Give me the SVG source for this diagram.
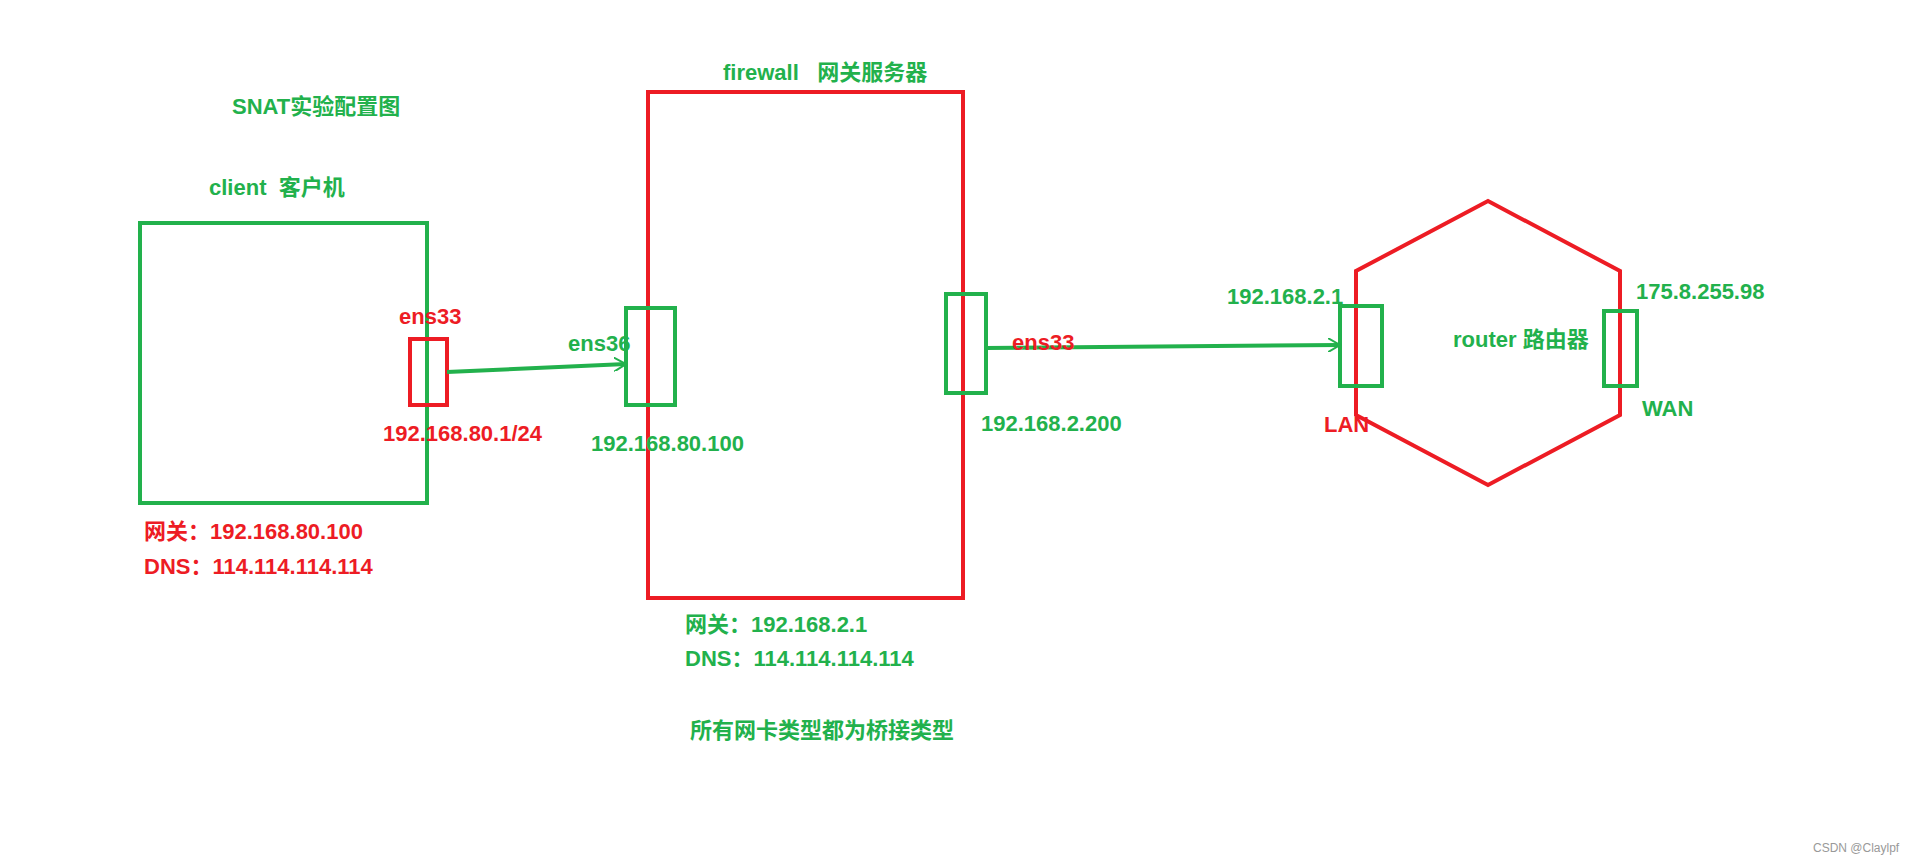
<svg xmlns="http://www.w3.org/2000/svg" width="1914" height="866" viewBox="0 0 1914 866">
<style>
.t{font-family:"Liberation Sans","Noto Sans CJK SC",sans-serif;font-weight:bold;font-size:22px}
.g{fill:#22b14c}.r{fill:#ed1c24}
.sg{fill:none;stroke:#22b14c;stroke-width:4}
.sr{fill:none;stroke:#ed1c24;stroke-width:4}
</style>
<defs><marker id="a" markerWidth="14" markerHeight="14" refX="12" refY="7" orient="auto" markerUnits="userSpaceOnUse"><path d="M0,0 L12,7 L0,14" fill="none" stroke="#22b14c" stroke-width="2"/></marker></defs>
<rect width="1914" height="866" fill="#fff"/>
<g id="client"><rect class="sg" x="140" y="223" width="287" height="280"/></g>
<g id="client-ens33"><rect class="sr" x="410" y="339" width="37" height="66"/></g>
<g id="firewall"><rect class="sr" x="648" y="92" width="315" height="506"/></g>
<g id="fw-ens36"><rect class="sg" x="626" y="308" width="49" height="97"/></g>
<g id="fw-ens33"><rect class="sg" x="946" y="294" width="40" height="99"/></g>
<g id="router"><polygon class="sr" points="1488,201 1620,271 1620,415 1488,485 1356,415 1356,271"/></g>
<g id="lan"><rect class="sg" x="1340" y="306" width="42" height="80"/></g>
<g id="wan"><rect class="sg" x="1604" y="311" width="33" height="75"/></g>
<g id="connectors">
<line class="sg" x1="447" y1="372" x2="626" y2="364" marker-end="url(#a)"/>
<line class="sg" x1="986" y1="348" x2="1340" y2="345" marker-end="url(#a)"/>
</g>
<g id="labels">
<text class="t g" x="232" y="114">SNAT实验配置图</text>
<text class="t g" x="209" y="195">client&#160; 客户机</text>
<text class="t g" x="723" y="80">firewall&#160;&#160; 网关服务器</text>
<text class="t r" x="399" y="324">ens33</text>
<text class="t g" x="568" y="351">ens36</text>
<text class="t r" x="1012" y="350">ens33</text>
<text class="t r" x="383" y="441">192.168.80.1/24</text>
<text class="t g" x="591" y="451">192.168.80.100</text>
<text class="t g" x="981" y="431">192.168.2.200</text>
<text class="t g" x="1227" y="304">192.168.2.1</text>
<text class="t g" x="1636" y="299">175.8.255.98</text>
<text class="t g" x="1453" y="347">router 路由器</text>
<text class="t r" x="1324" y="432">LAN</text>
<text class="t g" x="1642" y="416">WAN</text>
<text class="t r" x="144" y="539">网关：192.168.80.100</text>
<text class="t r" x="144" y="574">DNS：114.114.114.114</text>
<text class="t g" x="685" y="632">网关：192.168.2.1</text>
<text class="t g" x="685" y="666">DNS：114.114.114.114</text>
<text class="t g" x="690" y="738">所有网卡类型都为桥接类型</text>
<text x="1813" y="852" font-family="Liberation Sans,sans-serif" font-size="12" fill="#999">CSDN @Claylpf</text>
</g>
</svg>
